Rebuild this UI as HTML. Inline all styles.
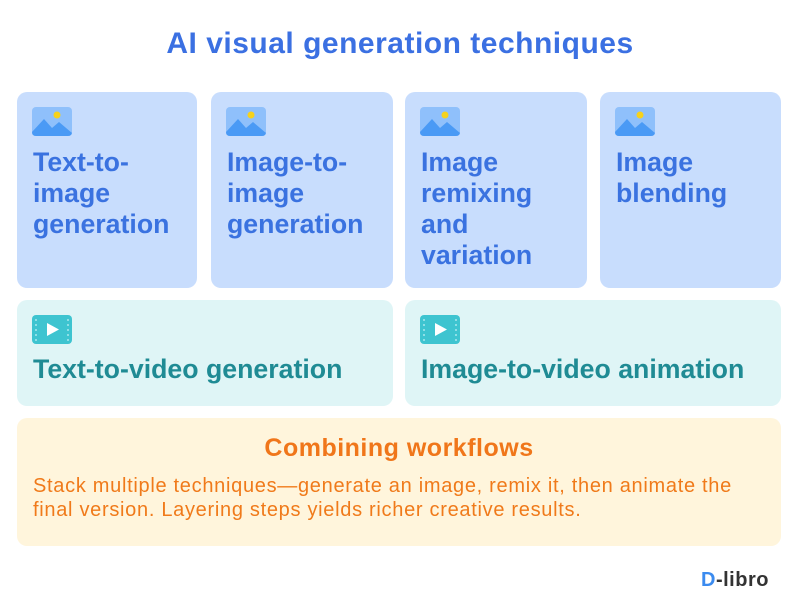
<!DOCTYPE html>
<html><head><meta charset="utf-8"><style>
body{margin:0;width:800px;height:600px;background:#fff;font-family:"Liberation Sans",sans-serif;position:relative;overflow:hidden}
.t{position:absolute;top:27px;left:0;width:800px;text-align:center;font-size:30px;font-weight:bold;color:#3b70e2;letter-spacing:0.5px}
.c{position:absolute;border-radius:10px}
.b{background:#c8ddfd;top:92px;height:196px}
.g{background:#dff5f6;top:300px;height:106px}
.c .ic{position:absolute;left:15px;top:15px}
.b .tx{position:absolute;left:16px;top:55px;font-size:26.7px;font-weight:bold;color:#3a72e0;line-height:31px}
.g .tx{position:absolute;left:16px;top:54px;font-size:26.7px;font-weight:bold;color:#1f8b94}
.o{left:17px;top:418px;width:764px;height:128px;background:#fff5dc}
.oh{position:absolute;top:16px;width:100%;text-align:center;font-size:25px;font-weight:bold;color:#f0761a;letter-spacing:0.5px}
.ob{position:absolute;left:16px;top:56px;font-size:20px;color:#f07a1a;line-height:24px;letter-spacing:0.7px;white-space:nowrap}
</style></head><body>
<div class="t">AI visual generation techniques</div>
<svg width="0" height="0" style="position:absolute"><defs>
<g id="im"><rect x="0" y="0" width="40" height="29" rx="4" fill="#8fc0fb"/><circle cx="25" cy="8" r="3.5" fill="#f6d21c"/><path d="M0 25 L12 12 L20 21 L27 15 L40 26 L40 25 Q40 29 36 29 L4 29 Q0 29 0 25Z" fill="#4a9af5"/></g>
<g id="vd"><rect x="0" y="0" width="40" height="29" rx="4" fill="#3ec4d0"/><path d="M15 8 L15 21 L27 14.5Z" fill="#fff"/><g fill="#a8e8ee"><circle cx="4" cy="5" r="1"/><circle cx="4" cy="10" r="1"/><circle cx="4" cy="15" r="1"/><circle cx="4" cy="20" r="1"/><circle cx="4" cy="25" r="1"/><circle cx="36" cy="5" r="1"/><circle cx="36" cy="10" r="1"/><circle cx="36" cy="15" r="1"/><circle cx="36" cy="20" r="1"/><circle cx="36" cy="25" r="1"/></g></g>
</defs></svg>
<div class="c b" style="left:17px;width:180px"><svg class="ic" width="40" height="29"><use href="#im"/></svg><div class="tx">Text-to-<br>image<br>generation</div></div>
<div class="c b" style="left:211px;width:182px"><svg class="ic" width="40" height="29"><use href="#im"/></svg><div class="tx">Image-to-<br>image<br>generation</div></div>
<div class="c b" style="left:405px;width:182px"><svg class="ic" width="40" height="29"><use href="#im"/></svg><div class="tx">Image<br>remixing<br>and<br>variation</div></div>
<div class="c b" style="left:600px;width:181px"><svg class="ic" width="40" height="29"><use href="#im"/></svg><div class="tx">Image<br>blending</div></div>
<div class="c g" style="left:17px;width:376px"><svg class="ic" width="40" height="29"><use href="#vd"/></svg><div class="tx">Text-to-video generation</div></div>
<div class="c g" style="left:405px;width:376px"><svg class="ic" width="40" height="29"><use href="#vd"/></svg><div class="tx">Image-to-video animation</div></div>
<div class="c o"><div class="oh">Combining workflows</div><div class="ob">Stack multiple techniques—generate an image, remix it, then animate the<br>final version. Layering steps yields richer creative results.</div></div>
<div style="position:absolute;left:701px;top:569px;font-size:20px;font-weight:bold;color:#333;letter-spacing:0.5px"><span style="color:#3b8bef">D</span>-libro</div>
</body></html>
